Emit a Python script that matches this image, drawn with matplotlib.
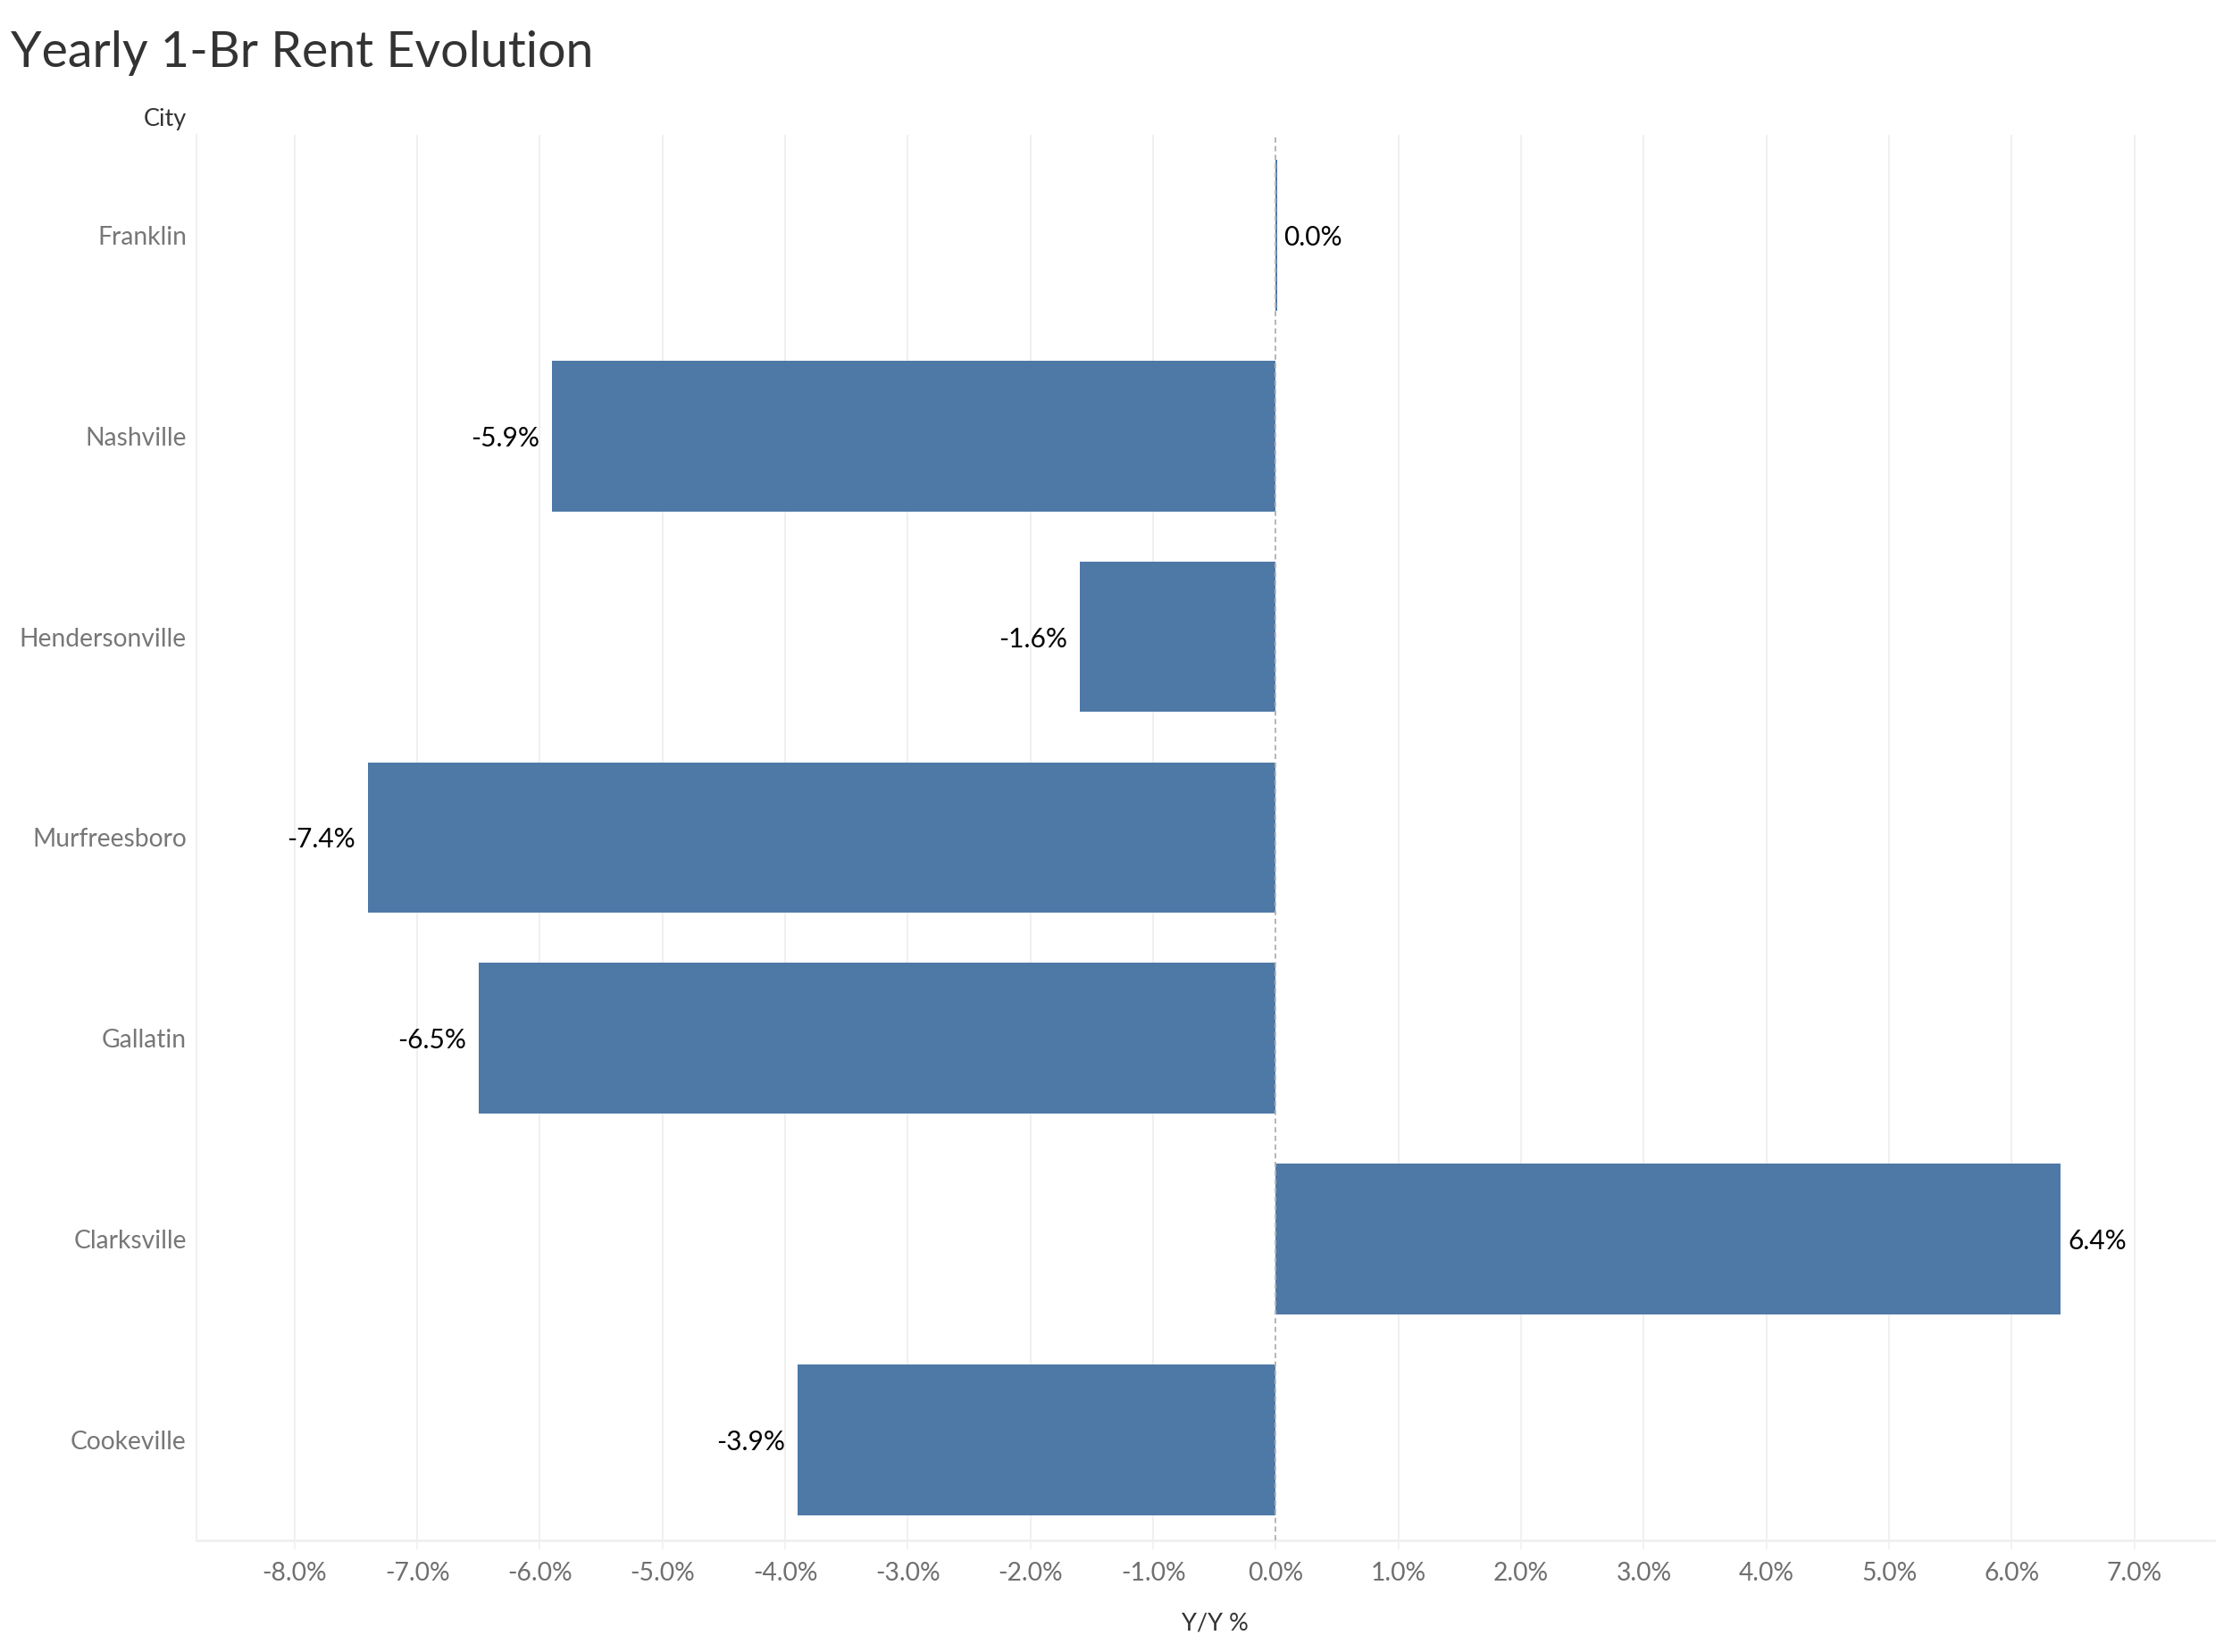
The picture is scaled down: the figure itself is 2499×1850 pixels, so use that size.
import matplotlib
matplotlib.use("Agg")
import matplotlib.pyplot as plt
import numpy as np

# data
cities = ["Franklin", "Nashville", "Hendersonville", "Murfreesboro", "Gallatin", "Clarksville", "Cookeville"]
yoy = [0.0, -5.9, -1.6, -7.4, -6.5, 6.4, -3.9]
ticks = np.arange(-8, 8)

BLUE = "#4e79a7"
GRID = "#f0f0f0"

plt.rcParams['font.family'] = ['Lato', 'DejaVu Sans']

fig = plt.figure(figsize=(24.99, 18.5), dpi=100)
ax = fig.add_axes([0.088, 0.0676, 0.904, 0.8508])

y = np.arange(len(cities))
ax.barh(y, yoy, height=0.75, color=BLUE, zorder=3)
# Franklin has 0 width, tableau still draws a thin sliver
ax.barh(y[0], 0.015, height=0.75, color=BLUE, zorder=3)

ax.set_ylim(len(cities) - 0.5, -0.5)
ax.set_xlim(-8.8, 7.65)

for xv in ticks:
    if xv == 0:
        continue
    ax.axvline(xv, color=GRID, lw=1.5, zorder=1)
ax.axvline(0, color="#b5b5b5", lw=1.4, ls=(0, (3, 2)), zorder=4)

for i, v in enumerate(yoy):
    txt = f"{v:.1f}%"
    if v < 0:
        ax.annotate(txt, (v, i), xytext=(-10, 0), textcoords="offset points",
                    ha="right", va="center_baseline", fontsize=21.5, color="black")
    else:
        ax.annotate(txt, (v, i), xytext=(6, 0), textcoords="offset points",
                    ha="left", va="center_baseline", fontsize=21.5, color="black")

ax.set_xticks(ticks)
ax.set_xticklabels([f"{t:.1f}%" for t in ticks])
ax.set_yticks(y)
ax.set_yticklabels(cities, va="center_baseline")
ax.tick_params(axis="x", length=7, width=1.2, color=GRID, pad=10, labelsize=20.3, labelcolor="#6f6f6f")
ax.tick_params(axis="y", length=0, pad=8, labelsize=20.3, labelcolor="#777777")

for s in ["top", "right"]:
    ax.spines[s].set_visible(False)
ax.spines["bottom"].set_color(GRID)
ax.spines["bottom"].set_linewidth(2)
ax.spines["left"].set_color(GRID)
ax.spines["left"].set_linewidth(1.5)

fig.text(0.005, 0.968, "Yearly 1-Br Rent Evolution", fontsize=40, color="#333333", va="center", ha="left")
fig.text(0.0836, 0.9276, "City", fontsize=19.5, color="#333333", va="center", ha="right")
fig.text(0.5442, 0.0173, "Y/Y %", fontsize=19.5, color="#333333", va="center", ha="center")

fig.savefig("out.png", dpi=100, facecolor="white")
